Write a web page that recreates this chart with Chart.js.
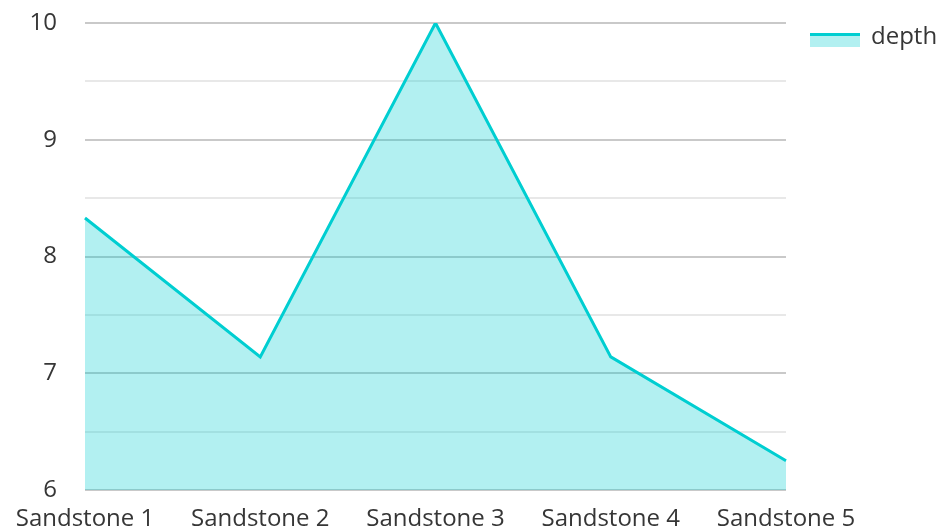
<!DOCTYPE html>
<html>
<head>
<meta charset="utf-8">
<script src="https://cdn.jsdelivr.net/npm/chart.js@4/dist/chart.umd.min.js"></script>
<style>
  html, body { margin: 0; padding: 0; background: #ffffff; }
  #wrap { width: 941px; height: 531px; position: relative; }
</style>
</head>
<body>
<div id="wrap"><canvas id="chart"></canvas></div>
<script>
const categories = ['Sandstone 1', 'Sandstone 2', 'Sandstone 3', 'Sandstone 4', 'Sandstone 5'];
const depthValues = [8.33, 7.14, 10, 7.14, 6.25];
const seriesName = 'depth';
const yTicks = [6, 7, 8, 9, 10];

const lineColor = 'rgb(0, 206, 209)';
const fillColor = 'rgba(0, 206, 209, 0.3)';
const textColor = '#363636';

// legend swatch: translucent block with a solid top stroke
function makeSwatch() {
  const c = document.createElement('canvas');
  c.width = 50; c.height = 20;
  const g = c.getContext('2d');
  g.fillStyle = fillColor;
  g.fillRect(0, 6, 50, 14);
  g.fillStyle = lineColor;
  g.fillRect(0, 6, 50, 3);
  return c;
}
const swatch = makeSwatch();

// fixed box sizes so the plot area sits where intended
const fixedLayout = {
  id: 'fixedLayout',
  beforeLayout(chart) {
    const lg = chart.legend;
    if (lg && !lg._fixedFit) {
      const orig = lg.fit.bind(lg);
      lg.fit = function () { orig(); this.width = 155; };
      lg._fixedFit = true;
    }
  }
};

Chart.defaults.font.family = '"Open Sans", "Noto Sans", sans-serif';
Chart.defaults.font.size = 24;
Chart.defaults.color = textColor;

new Chart(document.getElementById('chart'), {
  type: 'line',
  data: {
    labels: categories,
    datasets: [{
      label: seriesName,
      data: depthValues,
      borderColor: lineColor,
      backgroundColor: fillColor,
      borderWidth: 3,
      pointRadius: 0,
      tension: 0,
      fill: 'start'
    }]
  },
  plugins: [fixedLayout],
  options: {
    responsive: true,
    maintainAspectRatio: false,
    animation: false,
    layout: { padding: 0 },
    plugins: {
      tooltip: { enabled: false },
      legend: {
        position: 'right',
        align: 'start',
        labels: {
          usePointStyle: true,
          pointStyleWidth: 48,
          boxHeight: 20,
          padding: 25,
          generateLabels: (chart) => chart.data.datasets.map((ds, i) => ({
            text: ds.label,
            pointStyle: swatch,
            fillStyle: fillColor,
            strokeStyle: lineColor,
            lineWidth: 0,
            hidden: false,
            datasetIndex: i,
            fontColor: textColor
          }))
        }
      }
    },
    scales: {
      x: {
        grid: { display: false, drawTicks: false },
        border: { display: false },
        ticks: { padding: 15, maxRotation: 0, autoSkip: false },
        afterFit(scale) {
          scale.height = 41;
          scale.paddingLeft = 0;
          scale.paddingRight = 0;
        }
      },
      y: {
        min: 6,
        max: 10,
        grid: {
          drawTicks: false,
          lineWidth: 2,
          color: (ctx) => (Number.isInteger(ctx.tick.value) ? '#c9c9c9' : '#e8e8e8')
        },
        border: { display: false },
        ticks: {
          stepSize: 0.5,
          padding: 28,
          callback: (v) => (yTicks.includes(v) ? String(v) : '')
        },
        afterFit(scale) {
          scale.width = 85;
          scale.paddingTop = 23;
          scale.paddingBottom = 0;
        }
      }
    }
  }
});
</script>
</body>
</html>
